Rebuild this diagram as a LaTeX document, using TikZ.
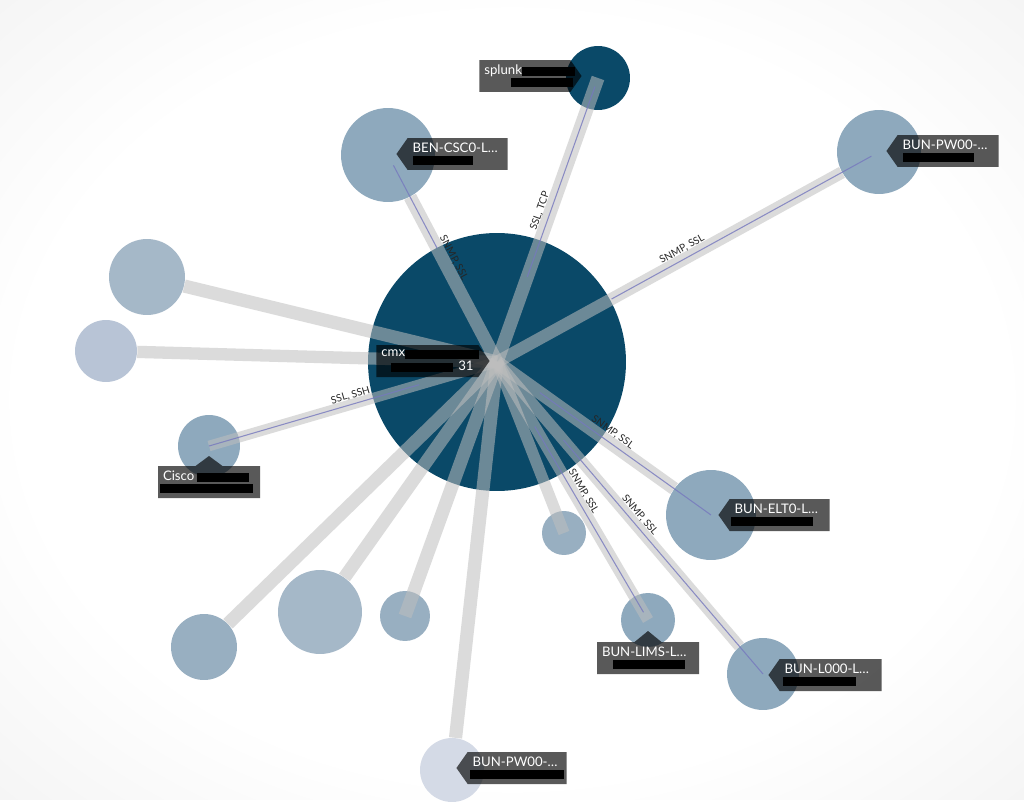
\documentclass[tikz,border=0pt]{standalone}
\usepackage{fontspec}
\setmainfont{Lato}
\usetikzlibrary{shapes.symbols, shapes.callouts, calc}

\definecolor{hubblue}{RGB}{10,73,104}
\definecolor{leafblue}{RGB}{142,169,189}
\definecolor{leafsteel}{RGB}{152,175,193}
\definecolor{leafpale}{RGB}{165,184,200}
\definecolor{leafmist}{RGB}{184,196,214}
\definecolor{leafghost}{RGB}{212,218,230}
\definecolor{linkgray}{RGB}{190,190,190}
\definecolor{tracecol}{RGB}{118,120,190}

% one pixel of the reference = 0.02cm
\newdimen\pxu \pxu=0.569pt
\newcommand\redact[1]{{\color{black}\rule[-2\pxu]{#1\pxu}{9\pxu}}}

\pgfdeclareradialshading{backglow}{\pgfpoint{0bp}{0bp}}{color(0bp)=(white); color(24bp)=(white); color(50bp)=(black!9); color(72bp)=(black!13)}

\begin{document}
\begin{tikzpicture}[
    x=0.02cm, y=-0.02cm,
    hub/.style={circle, fill=hubblue, inner sep=0pt, minimum size=5.16cm},
    leaf/.style 2 args={circle, fill=#1, inner sep=0pt, minimum size=#2*0.04cm},
    link/.style={draw=linkgray, draw opacity=0.55, line width=7.5pt},
    trace/.style={draw=tracecol, line width=0.6pt, draw opacity=0.8},
    linklabel/.style={pos=#1, sloped, above=-1.5pt, inner sep=1pt, text=black!85, font=\fontsize{5.8}{6.5}\selectfont},
    linklabel/.default=0.5,
    tagbase/.style={fill=black, fill opacity=0.65, text opacity=1, text=white, align=left,
        font=\fontsize{7.5}{6.2}\selectfont, inner xsep=2.85pt, inner ysep=1pt, minimum height=0.64cm},
    tagwest/.style={tagbase, shape=signal, signal to=west, signal pointer angle=110, anchor=east, text width=#1},
    tageast/.style={tagbase, shape=signal, signal to=east, signal pointer angle=110, anchor=west, text width=#1},
    tagup/.style={tagbase, rectangle callout, callout pointer width=0.54cm, text width=1.84cm}
]

\shade[shading=backglow] (0,0) rectangle (1024,799);

% hub and hosts
\node[hub] (cmx) at (497,362) {};
\node[leaf={hubblue}{32}] (splunk) at (598,78) {};
\node[leaf={leafblue}{47}] (bencsc) at (388,155) {};
\node[leaf={leafblue}{42}] (pwtop) at (879,152) {};
\node[leaf={leafpale}{38}] (hostA) at (147,277) {};
\node[leaf={leafmist}{31}] (hostB) at (106,351) {};
\node[leaf={leafblue}{31}] (cisco) at (209,446) {};
\node[leaf={leafblue}{45}] (eltzero) at (711,515) {};
\node[leaf={leafsteel}{22}] (hostC) at (564,533) {};
\node[leaf={leafblue}{27}] (lims) at (648,620) {};
\node[leaf={leafblue}{36}] (lzero) at (763,674) {};
\node[leaf={leafghost}{32}] (pwbot) at (452,770) {};
\node[leaf={leafsteel}{25}] (hostD) at (405,616) {};
\node[leaf={leafpale}{42}] (hostE) at (320,612) {};
\node[leaf={leafsteel}{33}] (hostF) at (204,647) {};

% links
\draw[link] (cmx.center) -- (hostA);
\draw[link, line width=7pt] (cmx.center) -- (hostB);
\draw[link] (cmx.center) -- (hostE);
\draw[link] (cmx.center) -- (hostF);
\draw[link] (cmx.center) -- (hostD.center);
\draw[link, line width=6.5pt] (cmx.center) -- (hostC.center);
\draw[link] (cmx.center) -- (pwbot);
\draw[link] (cmx.center) -- (splunk.center) node[linklabel=0.52] (lsplunk) {SSL, TCP};
\draw[link] (cmx.center) -- (bencsc) node[linklabel=0.6] (lben) {SNMP, SSL};
\draw[link, line width=7pt] (cmx.center) -- (pwtop) node[linklabel=0.55] (lpw) {SNMP, SSL};
\draw[link, line width=6pt] (cmx.center) -- (cisco.center) node[linklabel=0.5] (lcisco) {SSL, SSH};
\draw[link] (cmx.center) -- (eltzero) node[linklabel=0.62] (lelt) {SNMP, SSL};
\draw[link, line width=6.5pt] (cmx.center) -- (lims.center) node[linklabel=0.52] (llims) {SNMP, SSL};
\draw[link, line width=6.5pt] (cmx.center) -- (lzero) node[linklabel=0.56] (llzero) {SNMP, SSL};

% traffic traces
\draw[trace] ($(cmx.center)!0.3!(splunk.center)$) -- ($(cmx.center)!0.97!(splunk.center)$);
\draw[trace] ($(cmx.center)!0.55!(bencsc.center)$) -- ($(cmx.center)!0.95!(bencsc.center)$);
\draw[trace] ($(cmx.center)!0.3!(pwtop.center)$) -- ($(cmx.center)!0.98!(pwtop.center)$);
\draw[trace] ($(cmx.center)!0.27!(cisco.center)$) -- (cisco.center);
\draw[trace] ($(cmx.center)!0.2!(eltzero.center)$) -- (eltzero.center);
\draw[trace] ($(cmx.center)!0.25!(lims.center)$) -- ($(cmx.center)!0.97!(lims.center)$);
\draw[trace] ($(cmx.center)!0.25!(lzero.center)$) -- (lzero.center);

% host tags
\node[tageast=1.84cm] (tagcmx) at (376,361) {\mbox{cmx\redact{74}}\\\mbox{\kern10\pxu\redact{62}\kern5\pxu 31}};
\node[tageast=1.62cm] (tagsplunk) at (479,76) {\mbox{splunk\redact{53}}\\\mbox{\kern27\pxu\redact{62}}};
\node[tagwest=1.8cm] (tagben) at (508,154) {BEN-CSC0-L\ldots\\\redact{60}};
\node[tagwest=1.82cm] (tagpwtop) at (999,151) {BUN-PW00-\ldots\\\redact{71}};
\node[tagwest=1.8cm] (tagelt) at (830,515) {BUN-ELT0-L\ldots\\\mbox{\kern-4\pxu\redact{82}}};
\node[tagwest=1.84cm] (taglzero) at (882,675) {BUN-L000-L\ldots\\\mbox{\kern-2\pxu\redact{73}}};
\node[tagwest=1.78cm] (tagpwbot) at (567,768) {BUN-PW00-\ldots\\\mbox{\kern-3\pxu\redact{94}}};
\node[tagup, callout absolute pointer={(209,456)}] (tagcisco) at (209,482) {\mbox{Cisco\kern3\pxu\redact{52}}\\\mbox{\kern-3\pxu\redact{93}}};
\node[tagup, callout absolute pointer={(648,631)}] (taglims) at (648,658) {BUN-LIMS-L\ldots\\\mbox{\kern11\pxu\redact{72}}};

\end{tikzpicture}
\end{document}
